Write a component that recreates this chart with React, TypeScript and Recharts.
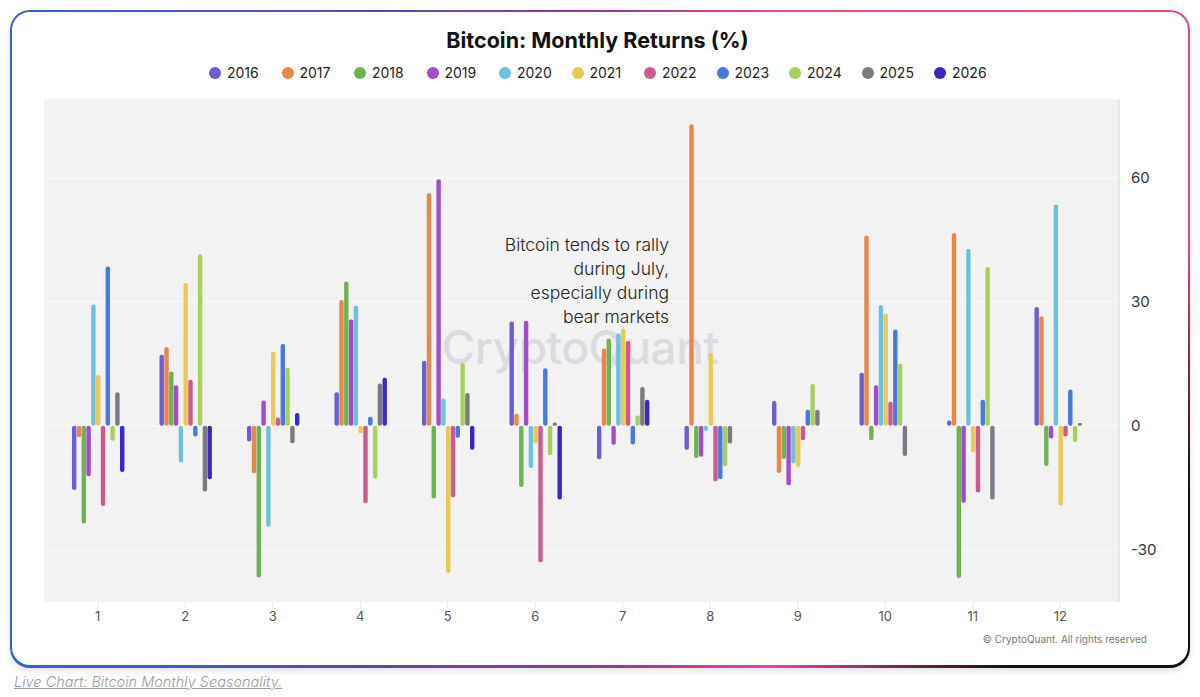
import { BarChart, Bar, XAxis, YAxis, CartesianGrid } from "recharts";

const months = ["1", "2", "3", "4", "5", "6", "7", "8", "9", "10", "11", "12"];
const years = ["2016", "2017", "2018", "2019", "2020", "2021", "2022", "2023", "2024", "2025", "2026"];
const colors = ["#6a5fd0", "#e8874c", "#6fb153", "#a24ccc", "#6ec1dc", "#e8c955", "#cc5a8c", "#4a78dc", "#a6d05c", "#7a7a80", "#3b27c4"];

const r2016 = [-15.5, 17.2, -3.8, 8.1, 15.7, 25.2, -8.1, -5.8, 6.0, 12.8, 1.3, 28.7];
const r2017 = [-2.8, 19.0, -11.5, 30.4, 56.2, 2.9, 18.7, 72.9, -11.4, 46.0, 46.6, 26.5];
const r2018 = [-23.6, 13.1, -36.7, 34.9, -17.6, -14.8, 21.1, -7.8, -8.0, -3.5, -36.8, -9.7];
const r2019 = [-12.2, 9.8, 6.1, 25.7, 59.6, 25.4, -4.6, -7.5, -14.4, 9.8, -18.6, -3.1];
const r2020 = [29.3, -8.9, -24.4, 29.0, 6.6, -10.2, 22.3, -1.2, -9.1, 29.2, 42.8, 53.5];
const r2021 = [12.3, 34.5, 17.9, -1.8, -35.6, -4.3, 23.5, 17.6, -9.9, 27.1, -6.4, -19.3];
const r2022 = [-19.4, 11.1, 2.0, -18.7, -17.3, -33.0, 20.5, -13.4, -3.5, 5.8, -16.1, -2.6];
const r2023 = [38.5, -2.6, 19.8, 2.2, -2.9, 13.9, -4.5, -12.9, 3.9, 23.3, 6.3, 8.8];
const r2024 = [-3.6, 41.4, 14.0, -12.8, 15.2, -7.1, 2.5, -9.8, 10.1, 15.0, 38.4, -3.9];
const r2025 = [8.1, -15.9, -4.2, 10.2, 7.9, 0.8, 9.4, -4.3, 3.9, -7.3, -17.8, 0.7];
const r2026 = [-11.2, -12.9, 3.1, 11.6, -5.8, -17.8, 6.3, null, null, null, null, null];

const yTicks = [-30, 0, 30, 60];

const series = [r2016, r2017, r2018, r2019, r2020, r2021, r2022, r2023, r2024, r2025, r2026];

const data = months.map((m, i) => {
  const row: Record<string, string | number | null> = { month: m };
  years.forEach((y, j) => {
    row["y" + y] = series[j][i];
  });
  return row;
});

const font = "Inter, 'Noto Sans', sans-serif";

export default function App() {
  return (
    <div style={{ position: "absolute", left: 0, top: 0, width: 1200, height: 697, background: "#fff", fontFamily: font, overflow: "hidden" }}>
      {/* gradient card border */}
      <div
        style={{
          position: "absolute",
          left: 10,
          top: 10,
          width: 1180,
          height: 658,
          borderRadius: 20,
          background:
            "radial-gradient(circle at 100% 100%, #111 0px, #111 180px, rgba(0,0,0,0) 420px), linear-gradient(to right, #3563c4 0%, #5a4aa8 30%, #8a3c8e 50%, #e8489a 65%, #e0468f 100%)",
          boxShadow: "0 3px 6px rgba(0,0,0,0.12)",
        }}
      />
      <div style={{ position: "absolute", left: 12, top: 12, width: 1176, height: 653, borderRadius: 18, background: "#fff" }} />

      {/* plot background + watermark */}
      <div style={{ position: "absolute", left: 44, top: 99, width: 1075, height: 503, background: "#f2f2f2" }} />
      <div style={{ position: "absolute", left: 380, top: 330, width: 400, textAlign: "center", fontSize: 46, lineHeight: "34px", fontWeight: 500, color: "#dcdce0", letterSpacing: -0.5 }}>
        CryptoQuant
      </div>

      <div style={{ position: "absolute", left: 0, top: 27, width: 1195, textAlign: "center", fontSize: 21.5, fontWeight: 700, color: "#111" }}>
        Bitcoin: Monthly Returns (%)
      </div>

      <div style={{ position: "absolute", left: 209, top: 64, display: "flex" }}>
        {years.map((y, i) => (
          <div key={y} style={{ width: 72.5, display: "flex", alignItems: "center", fontSize: 14, color: "#222" }}>
            <span style={{ width: 12, height: 12, borderRadius: 6, background: colors[i], marginRight: 6, display: "inline-block" }} />
            {y}
          </div>
        ))}
      </div>

      <div style={{ position: "absolute", left: 0, top: 0 }}>
        <BarChart width={1200} height={697} data={data} margin={{ top: 99, left: 44, right: 21, bottom: 65 }} barSize={4.4} barGap={0.4}>
          <CartesianGrid vertical={false} stroke="#fbfbfb" />
          <XAxis
            dataKey="month"
            padding={{ left: 10, right: 15 }}
            axisLine={false}
            tickLine={{ stroke: "#e6e6e6" }}
            tickSize={6}
            tickMargin={4}
            height={30}
            tick={{ fill: "#555", fontSize: 13, fontFamily: font }}
          />
          <YAxis
            orientation="right"
            domain={[-42.6, 79]}
            ticks={yTicks}
            width={60}
            axisLine={{ stroke: "#d6d6d6" }}
            tickLine={false}
            tickSize={6}
            tickMargin={6}
            tick={{ fill: "#333", fontSize: 15, fontFamily: font }}
          />
          {years.map((y, i) => (
            <Bar key={y} dataKey={"y" + y} fill={colors[i]} radius={2} isAnimationActive={false} />
          ))}
        </BarChart>
      </div>

      <div style={{ position: "absolute", left: 370, top: 233, width: 299, textAlign: "right", fontSize: 17.5, fontWeight: 300, lineHeight: "24px", color: "#222" }}>
        Bitcoin tends to rally
        <br />
        during July,
        <br />
        especially during
        <br />
        bear markets
      </div>

      <div style={{ position: "absolute", left: 847, top: 633, width: 300, textAlign: "right", fontSize: 10, color: "#777" }}>
        © CryptoQuant. All rights reserved
      </div>

      <div style={{ position: "absolute", left: 14, top: 673, fontSize: 14.5, fontStyle: "italic", fontWeight: 300, color: "#9a9a9a", textDecoration: "underline" }}>
        Live Chart: Bitcoin Monthly Seasonality.
      </div>
    </div>
  );
}
